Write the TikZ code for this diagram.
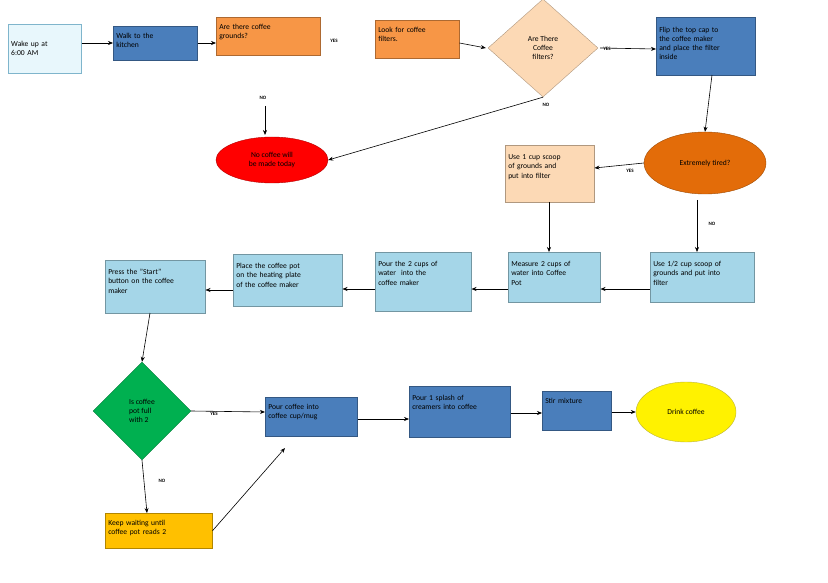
\documentclass[tikz,border=0pt]{standalone}
\usepackage{fontspec}
\setmainfont{Carlito}
\usetikzlibrary{shapes.geometric,arrows.meta,positioning}
\definecolor{lcy}{HTML}{E8F7FC}
\definecolor{bl}{HTML}{4A7EBB}
\definecolor{blb}{HTML}{2C5D98}
\definecolor{og}{HTML}{F79646}
\definecolor{ogb}{HTML}{D9782E}
\definecolor{pch}{HTML}{FCD9B5}
\definecolor{lb}{HTML}{A5D6E8}
\definecolor{lbb}{HTML}{7FB5CC}
\definecolor{dor}{HTML}{E36C09}
\definecolor{gr}{HTML}{00B050}
\definecolor{gd}{HTML}{FFC000}
\begin{document}
\begin{tikzpicture}[x=1pt,y=-1pt,
  txt/.style={font=\fontsize{7.6}{9.2}\selectfont,align=left,text=black},
  box/.style={txt,rectangle,draw=#1!70!black,line width=0.5pt,inner sep=3pt,anchor=north west},
  lab/.style={font=\fontsize{5}{6}\bfseries\selectfont},
  arr/.style={-{Stealth[length=5pt,width=4pt]},line width=0.6pt}]
\useasboundingbox (0,0) rectangle (828,583);
\def\bx#1#2#3#4#5#6#7{\node[box=#6,fill=#6,minimum width=#4-#2,minimum height=#5-#3,text width=#4-#2-6,text depth=#5-#3-20] (#1) at (#2,#3) {#7};}
\node[box=lcy,draw=lbb,fill=lcy,minimum width=73,minimum height=49,text width=67] (n1) at (8,24) {Wake up at\\6:00 AM};
\node[box=bl,fill=bl,minimum width=84,minimum height=34,text width=78,text height=6,text depth=16] (n2) at (113,26) {Walk to the\\kitchen};
\node[box=og,fill=og,minimum width=104,minimum height=38,text width=98,text height=6,text depth=20] (n3) at (216,17) {Are there coffee\\grounds?};
\node[box=og,fill=og,minimum width=84,minimum height=38,text width=78,text height=6,text depth=20] (n4) at (375,20) {Look for coffee\\filters.};
\node[diamond,draw=pch!70!black,fill=pch,minimum width=110,minimum height=98,inner sep=0,txt,align=center] (d1) at (543,48) {Are There\\Coffee\\filters?};
\node[box=bl,fill=bl,minimum width=99,minimum height=58,text width=93,text height=6,text depth=34] (n5) at (656,17) {Flip the top cap to\\the coffee maker\\and place the filter\\inside};
\node[ellipse,draw=red!70!black,fill=red,minimum width=112,minimum height=46,txt,align=center] (e1) at (272,160) {No coffee will\\be made today};
\node[ellipse,draw=dor!70!black,fill=dor,minimum width=122,minimum height=62,txt,align=center] (e2) at (705,163) {Extremely tired?};
\node[box=pch,fill=pch,minimum width=89,minimum height=57,text width=83,text height=6,text depth=34] (n6) at (505,145) {Use 1 cup scoop\\of grounds and\\put into filter};
\node[box=lb,fill=lb,minimum width=104,minimum height=50,text width=98,text height=6,text depth=27] (n7) at (650,252) {Use 1/2 cup scoop of\\grounds and put into\\filter};
\node[box=lb,fill=lb,minimum width=92,minimum height=50,text width=86,text height=6,text depth=27] (n8) at (508,252) {Measure 2 cups of\\water into Coffee\\Pot};
\node[box=lb,fill=lb,minimum width=96,minimum height=59,text width=90,text height=6,text depth=36] (n9) at (375,252) {Pour the 2 cups of\\water ~into the\\coffee maker};
\node[box=lb,fill=lb,minimum width=109,minimum height=52,text width=103,text height=6,text depth=29] (n10) at (233,254) {Place the coffee pot\\on the heating plate\\of the coffee maker};
\node[box=lb,fill=lb,minimum width=100,minimum height=53,text width=94,text height=6,text depth=30] (n11) at (105,260) {Press the "Start"\\button on the coffee\\maker};
\node[diamond,draw=gr!70!black,fill=gr,minimum width=98,minimum height=98,inner sep=0,txt,align=left] (d2) at (142,411) {Is coffee\\pot full\\with 2};
\node[box=bl,fill=bl,minimum width=92,minimum height=39,text width=86,text height=6,text depth=20] (n12) at (265,397) {Pour coffee into\\coffee cup/mug};
\node[box=bl,fill=bl,minimum width=101,minimum height=51,text width=95,text height=6,text depth=28] (n13) at (409,386) {Pour 1 splash of\\creamers into coffee};
\node[box=bl,fill=bl,minimum width=69,minimum height=39,text width=63,text height=6,text depth=20] (n14) at (542,391) {Stir mixture};
\node[ellipse,draw=yellow!70!black,fill=yellow,minimum width=100,minimum height=60,txt] (e3) at (686,412) {Drink coffee};
\node[box=gd,fill=gd,minimum width=107,minimum height=35,text width=101,text height=6,text depth=16] (n15) at (105,513) {Keep waiting until\\coffee pot reads 2};
\coordinate (c1) at (265,106); \coordinate (c2) at (265,135);
\coordinate (c3) at (285,448);
\node[lab] (y1) at (334,41) {YES};
\node[lab] (y2) at (607,49) {YES};
\node[lab] (no1) at (546,105) {NO};
\node[lab] (no2) at (263,98) {NO};
\node[lab] (y3) at (630,171) {YES};
\node[lab] (no3) at (712,224) {NO};
\node[lab] (y4) at (214,414) {YES};
\node[lab] (no4) at (162,481) {NO};
\draw[arr] (n1.east|-0,43) -- (n2.west|-0,43);
\draw[arr] (n2.east|-0,43) -- (n3.west|-0,43);
\draw[arr] (n4.east|-0,43) -- ([xshift=-2pt]d1.west);
\draw[arr] ([xshift=2pt]d1.east) -- (n5.west|-0,49);
\draw[arr] (d1.south) -- (e1.east);
\draw[arr] (c1) -- (c2);
\draw[arr] (712,75) -- (e2.north);
\draw[arr] (e2.west) -- (n6.east|-0,168);
\draw[arr] (549,202) -- (n8.north-|549,0);
\draw[arr] (697,200) -- (n7.north-|697,0);
\draw[arr] (n7.west|-0,289) -- (n8.east|-0,289);
\draw[arr] (n8.west|-0,289) -- (n9.east|-0,289);
\draw[arr] (n9.west|-0,289) -- (n10.east|-0,289);
\draw[arr] (n10.west|-0,290) -- (n11.east|-0,290);
\draw[arr] (150,313) -- (d2.north);
\draw[arr] (d2.east) -- (n12.west|-0,412);
\draw[arr] (n12.east|-0,419) -- (n13.west|-0,419);
\draw[arr] (n13.east|-0,413) -- (n14.west|-0,413);
\draw[arr] (n14.east|-0,412) -- (e3.west);
\draw[arr] (d2.south) -- (n15.north-|147,0);
\draw[line width=0.6pt,arr] (n15.east) -- (c3);
\end{tikzpicture}
\end{document}
